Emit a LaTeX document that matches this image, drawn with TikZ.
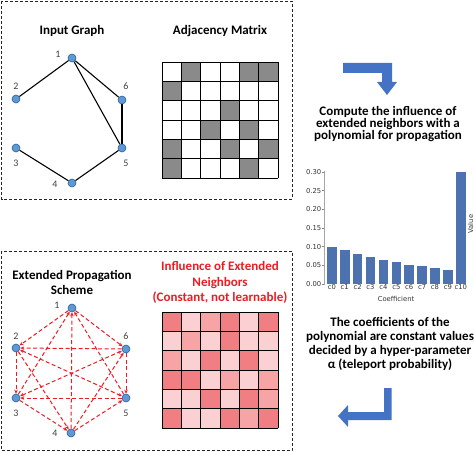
\documentclass[tikz,border=0pt]{standalone}
\usepackage{fontspec}
\setmainfont{Carlito}
\newfontfamily\dvs{DejaVu Sans}
\usetikzlibrary{arrows.meta}
\definecolor{nfill}{RGB}{91,155,213}
\definecolor{ndraw}{RGB}{49,93,150}
\definecolor{mgray}{RGB}{138,138,138}
\definecolor{shadeA}{RGB}{250,208,210}
\definecolor{shadeB}{RGB}{246,164,166}
\definecolor{shadeC}{RGB}{241,126,130}
\definecolor{barblue}{RGB}{76,114,176}
\definecolor{ablue}{RGB}{68,114,196}
\definecolor{tred}{RGB}{235,28,36}
\definecolor{labgray}{RGB}{64,64,64}
\tikzset{
  boxdash/.style={draw=black!85, line width=1pt, dash pattern=on 3pt off 2pt},
  gnode/.style={circle, draw=ndraw, fill=nfill, line width=0.6pt, minimum size=8pt, inner sep=0pt},
  lab/.style={font=\fontsize{10}{11}\selectfont, text=labgray, inner sep=0pt},
  ttl/.style={font=\bfseries\fontsize{13}{15.2}\selectfont, align=center, inner sep=0pt},
  txt/.style={font=\bfseries\fontsize{13}{12.3}\selectfont, align=center, inner sep=0pt},
  txtb/.style={font=\bfseries\fontsize{13}{14}\selectfont, align=center, inner sep=0pt},
  gedge/.style={line width=1.1pt, black},
  redge/.style={line width=1pt, tred, dash pattern=on 4pt off 2.5pt, -{Stealth[length=4pt,width=3.5pt]}},
  redgeb/.style={line width=1pt, tred, dash pattern=on 4pt off 2.5pt, {Stealth[length=4pt,width=3.5pt]}-{Stealth[length=4pt,width=3.5pt]}},
  tick/.style={font=\dvs\fontsize{6.8}{8}\selectfont, text=black!80, inner sep=0pt},
}
\begin{document}
\begin{tikzpicture}[x=1pt,y=-1pt]
\useasboundingbox (0,0) rectangle (474,452);
% dashed boxes
\draw[boxdash] (1.5,1.5) rectangle (292,199);
\draw[boxdash] (1.5,251) rectangle (292,450.5);
% titles
\node[ttl] (tInput) at (72,31) {Input Graph};
\node[ttl] (tAdj) at (220,31) {Adjacency Matrix};
\node[ttl] (tExt) at (72,282.5) {Extended Propagation\\Scheme};
\node[ttl, text=tred, font=\bfseries\fontsize{13}{15.5}\selectfont] (tInf) at (220,282.5) {Influence of Extended\\Neighbors\\(Constant, not learnable)};
% top graph
\node[gnode] (a1) at (72,58) {};
\node[gnode] (a2) at (16,99) {};
\node[gnode] (a6) at (122,100) {};
\node[gnode] (a3) at (16,148) {};
\node[gnode] (a5) at (122,148) {};
\node[gnode] (a4) at (72,183) {};
\node[lab] (la1) at (58,54) {1};
\node[lab] (la2) at (16,86) {2};
\node[lab] (la6) at (126,86) {6};
\node[lab] (la3) at (16,163) {3};
\node[lab] (la5) at (126,163) {5};
\node[lab] (la4) at (55,184) {4};
\draw[gedge] (a1) -- (a2);
\draw[gedge] (a1) -- (a6);
\draw[gedge] (a1) -- (a5);
\draw[gedge] (a6) -- (a5);
\draw[gedge] (a5) -- (a4);
\draw[gedge] (a4) -- (a3);
% adjacency matrix
\foreach \r/\c in {0/1,0/4,0/5,1/0,2/3,3/2,3/4,4/0,4/3,4/5,5/0,5/4}
  \fill[mgray] ({162+\c*19.33},{62+\r*19.33}) rectangle ++(19.33,19.33);
\foreach \i in {0,...,6} {
  \draw[line width=0.9pt] ({162+\i*19.33},62) -- ({162+\i*19.33},178);
  \draw[line width=0.9pt] (162,{62+\i*19.33}) -- (278,{62+\i*19.33});
}
% bottom graph
\node[gnode] (b1) at (72,308) {};
\node[gnode] (b2) at (16,348) {};
\node[gnode] (b6) at (126,349) {};
\node[gnode] (b3) at (16,398) {};
\node[gnode] (b5) at (126,398) {};
\node[gnode] (b4) at (71,433) {};
\node[lab] (lb1) at (57,305) {1};
\node[lab] (lb2) at (16,336) {2};
\node[lab] (lb6) at (126,336) {6};
\node[lab] (lb3) at (16,413) {3};
\node[lab] (lb5) at (126,413) {5};
\node[lab] (lb4) at (55,433) {4};
\draw[redge] (b3) -- (b1);
\draw[redge] (b4) -- (b1);
\draw[redge] (b5) -- (b1);
\draw[redge] (b1) -- (b2);
\draw[redge] (b1) -- (b6);
\draw[redge] (b6) -- (b2);
\draw[redgeb] (b2) -- (b5);
\draw[redge] (b2) -- (b3);
\draw[redge] (b2) -- (b4);
\draw[redgeb] (b3) -- (b6);
\draw[redge] (b5) -- (b3);
\draw[redge] (b3) -- (b4);
\draw[redge] (b4) -- (b5);
\draw[redge] (b4) -- (b6);
\draw[redge] (b6) -- (b5);
% influence matrix
\foreach \r/\vals in {0/{C,A,B,C,A,C},1/{A,B,A,C,A,A},2/{B,A,C,A,C,A},3/{C,C,A,B,A,B},4/{A,A,C,A,C,B},5/{C,A,A,C,B,C}} {
  \foreach \v [count=\c from 0] in \vals
    \fill[shade\v] ({162+\c*19.33},{312+\r*19.33}) rectangle ++(19.33,19.33);
}
\foreach \i in {0,...,6} {
  \draw[line width=0.9pt] ({162+\i*19.33},312) -- ({162+\i*19.33},428);
  \draw[line width=0.9pt] (162,{312+\i*19.33}) -- (278,{312+\i*19.33});
}
% top arrow
\fill[ablue] (343,63) -- (392,63) -- (392,82) -- (397,82) -- (387,95) -- (377,82) -- (382,82) -- (382,73) -- (343,73) -- cycle;
\node[txt] (tComp) at (388,124) {Compute the influence of\\extended neighbors with a\\polynomial for propagation};
% bar chart
\foreach \v [count=\i from 0] in {0.100,0.091,0.081,0.073,0.065,0.058,0.052,0.047,0.042,0.038,0.300} {
  \fill[barblue] ({327+\i*12.9},284) rectangle ++(9.6,{-\v*373});
  \node[tick] at ({331.8+\i*12.9},287.5) {c\i};
}
\draw[black!35, line width=0.6pt] (324,284.5) -- (324,171);
\foreach \t [count=\k from 0] in {0.00,0.05,0.10,0.15,0.20,0.25,0.30} {
  \draw[black!50, line width=0.5pt] (322,{284-\k*18.67}) -- (324,{284-\k*18.67});
  \node[tick, anchor=east] at (321.5,{284-\k*18.67}) {\t};
}
\node[tick] (xlab) at (396,299) {Coefficient};
\node[tick, rotate=90] (ylab) at (470.5,224) {Value};
% bottom text
\node[txtb] (tCoef) at (390,344) {The coefficients of the\\polynomial are constant values\\decided by a hyper-parameter\\α (teleport probability)};
% bottom arrow
\fill[ablue] (384,388) -- (391.5,388) -- (391.5,420) -- (348,420) -- (348,427) -- (338,416) -- (348,405) -- (348,412) -- (384,412) -- cycle;
\end{tikzpicture}
\end{document}
